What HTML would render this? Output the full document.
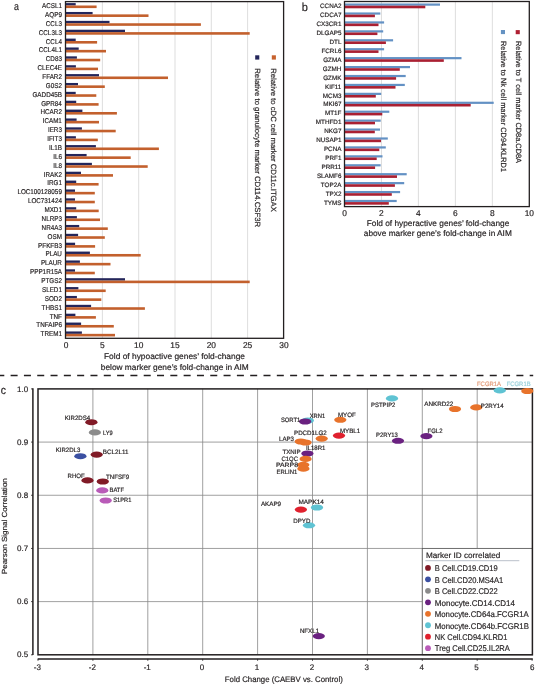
<!DOCTYPE html><html><head><meta charset="utf-8"><style>html,body{margin:0;padding:0;background:#fff;overflow:hidden} svg{will-change:transform}</style></head><body><svg width="536" height="685" viewBox="0 0 536 685" style="display:block;font-family:'Liberation Sans', sans-serif"><style>text{stroke-width:0.18px;text-rendering:geometricPrecision}</style><rect width="536" height="685" fill="#fff"/><line x1="102.40" y1="1.6" x2="102.40" y2="338.3" stroke="#d4d4d4" stroke-width="0.8"/><line x1="138.70" y1="1.6" x2="138.70" y2="338.3" stroke="#d4d4d4" stroke-width="0.8"/><line x1="175.00" y1="1.6" x2="175.00" y2="338.3" stroke="#d4d4d4" stroke-width="0.8"/><line x1="211.30" y1="1.6" x2="211.30" y2="338.3" stroke="#d4d4d4" stroke-width="0.8"/><line x1="247.60" y1="1.6" x2="247.60" y2="338.3" stroke="#d4d4d4" stroke-width="0.8"/><rect x="65.5" y="3.10" width="10.20" height="2.4" fill="#24265b"/><rect x="65.5" y="5.50" width="31.10" height="2.6" fill="#c3602d"/><text x="61.90" y="8.00" font-size="7.0" text-anchor="end" fill="#231f20" stroke="#231f20" textLength="19.97" lengthAdjust="spacingAndGlyphs">ACSL1</text><rect x="65.5" y="11.97" width="27.10" height="2.4" fill="#24265b"/><rect x="65.5" y="14.37" width="83.00" height="2.6" fill="#c3602d"/><text x="61.90" y="16.87" font-size="7.0" text-anchor="end" fill="#231f20" stroke="#231f20" textLength="16.82" lengthAdjust="spacingAndGlyphs">AQP9</text><rect x="65.5" y="20.85" width="44.00" height="2.4" fill="#24265b"/><rect x="65.5" y="23.25" width="135.40" height="2.6" fill="#c3602d"/><text x="61.90" y="25.75" font-size="7.0" text-anchor="end" fill="#231f20" stroke="#231f20" textLength="16.11" lengthAdjust="spacingAndGlyphs">CCL3</text><rect x="65.5" y="29.72" width="59.50" height="2.4" fill="#24265b"/><rect x="65.5" y="32.12" width="184.20" height="2.6" fill="#c3602d"/><text x="61.90" y="34.62" font-size="7.0" text-anchor="end" fill="#231f20" stroke="#231f20" textLength="23.13" lengthAdjust="spacingAndGlyphs">CCL3L3</text><rect x="65.5" y="38.60" width="10.20" height="2.4" fill="#24265b"/><rect x="65.5" y="41.00" width="31.60" height="2.6" fill="#c3602d"/><text x="61.90" y="43.50" font-size="7.0" text-anchor="end" fill="#231f20" stroke="#231f20" textLength="16.11" lengthAdjust="spacingAndGlyphs">CCL4</text><rect x="65.5" y="47.47" width="13.20" height="2.4" fill="#24265b"/><rect x="65.5" y="49.87" width="40.50" height="2.6" fill="#c3602d"/><text x="61.90" y="52.37" font-size="7.0" text-anchor="end" fill="#231f20" stroke="#231f20" textLength="23.13" lengthAdjust="spacingAndGlyphs">CCL4L1</text><rect x="65.5" y="56.34" width="11.40" height="2.4" fill="#24265b"/><rect x="65.5" y="58.74" width="34.70" height="2.6" fill="#c3602d"/><text x="61.90" y="61.24" font-size="7.0" text-anchor="end" fill="#231f20" stroke="#231f20" textLength="16.11" lengthAdjust="spacingAndGlyphs">CD83</text><rect x="65.5" y="65.22" width="10.40" height="2.4" fill="#24265b"/><rect x="65.5" y="67.62" width="32.50" height="2.6" fill="#c3602d"/><text x="61.90" y="70.12" font-size="7.0" text-anchor="end" fill="#231f20" stroke="#231f20" textLength="24.52" lengthAdjust="spacingAndGlyphs">CLEC4E</text><rect x="65.5" y="74.09" width="33.50" height="2.4" fill="#24265b"/><rect x="65.5" y="76.49" width="102.50" height="2.6" fill="#c3602d"/><text x="61.90" y="78.99" font-size="7.0" text-anchor="end" fill="#231f20" stroke="#231f20" textLength="19.61" lengthAdjust="spacingAndGlyphs">FFAR2</text><rect x="65.5" y="82.97" width="12.50" height="2.4" fill="#24265b"/><rect x="65.5" y="85.37" width="39.30" height="2.6" fill="#c3602d"/><text x="61.90" y="87.87" font-size="7.0" text-anchor="end" fill="#231f20" stroke="#231f20" textLength="16.12" lengthAdjust="spacingAndGlyphs">G0S2</text><rect x="65.5" y="91.84" width="10.20" height="2.4" fill="#24265b"/><rect x="65.5" y="94.24" width="30.80" height="2.6" fill="#c3602d"/><text x="61.90" y="96.74" font-size="7.0" text-anchor="end" fill="#231f20" stroke="#231f20" textLength="29.43" lengthAdjust="spacingAndGlyphs">GADD45B</text><rect x="65.5" y="100.71" width="10.70" height="2.4" fill="#24265b"/><rect x="65.5" y="103.11" width="33.10" height="2.6" fill="#c3602d"/><text x="61.90" y="105.61" font-size="7.0" text-anchor="end" fill="#231f20" stroke="#231f20" textLength="20.67" lengthAdjust="spacingAndGlyphs">GPR84</text><rect x="65.5" y="109.59" width="16.90" height="2.4" fill="#24265b"/><rect x="65.5" y="111.99" width="51.40" height="2.6" fill="#c3602d"/><text x="61.90" y="114.49" font-size="7.0" text-anchor="end" fill="#231f20" stroke="#231f20" textLength="21.37" lengthAdjust="spacingAndGlyphs">HCAR2</text><rect x="65.5" y="118.46" width="11.10" height="2.4" fill="#24265b"/><rect x="65.5" y="120.86" width="33.50" height="2.6" fill="#c3602d"/><text x="61.90" y="123.36" font-size="7.0" text-anchor="end" fill="#231f20" stroke="#231f20" textLength="19.26" lengthAdjust="spacingAndGlyphs">ICAM1</text><rect x="65.5" y="127.34" width="16.40" height="2.4" fill="#24265b"/><rect x="65.5" y="129.74" width="50.20" height="2.6" fill="#c3602d"/><text x="61.90" y="132.24" font-size="7.0" text-anchor="end" fill="#231f20" stroke="#231f20" textLength="14.01" lengthAdjust="spacingAndGlyphs">IER3</text><rect x="65.5" y="136.21" width="10.40" height="2.4" fill="#24265b"/><rect x="65.5" y="138.61" width="32.30" height="2.6" fill="#c3602d"/><text x="61.90" y="141.11" font-size="7.0" text-anchor="end" fill="#231f20" stroke="#231f20" textLength="14.71" lengthAdjust="spacingAndGlyphs">IFIT3</text><rect x="65.5" y="145.08" width="30.40" height="2.4" fill="#24265b"/><rect x="65.5" y="147.48" width="93.40" height="2.6" fill="#c3602d"/><text x="61.90" y="149.98" font-size="7.0" text-anchor="end" fill="#231f20" stroke="#231f20" textLength="12.97" lengthAdjust="spacingAndGlyphs">IL1B</text><rect x="65.5" y="153.96" width="21.10" height="2.4" fill="#24265b"/><rect x="65.5" y="156.36" width="65.20" height="2.6" fill="#c3602d"/><text x="61.90" y="158.86" font-size="7.0" text-anchor="end" fill="#231f20" stroke="#231f20" textLength="8.76" lengthAdjust="spacingAndGlyphs">IL6</text><rect x="65.5" y="162.83" width="26.40" height="2.4" fill="#24265b"/><rect x="65.5" y="165.23" width="82.20" height="2.6" fill="#c3602d"/><text x="61.90" y="167.73" font-size="7.0" text-anchor="end" fill="#231f20" stroke="#231f20" textLength="8.76" lengthAdjust="spacingAndGlyphs">IL8</text><rect x="65.5" y="171.71" width="15.50" height="2.4" fill="#24265b"/><rect x="65.5" y="174.11" width="47.50" height="2.6" fill="#c3602d"/><text x="61.90" y="176.61" font-size="7.0" text-anchor="end" fill="#231f20" stroke="#231f20" textLength="18.22" lengthAdjust="spacingAndGlyphs">IRAK2</text><rect x="65.5" y="180.58" width="10.70" height="2.4" fill="#24265b"/><rect x="65.5" y="182.98" width="33.10" height="2.6" fill="#c3602d"/><text x="61.90" y="185.48" font-size="7.0" text-anchor="end" fill="#231f20" stroke="#231f20" textLength="14.71" lengthAdjust="spacingAndGlyphs">IRG1</text><rect x="65.5" y="189.45" width="9.50" height="2.4" fill="#24265b"/><rect x="65.5" y="191.85" width="29.30" height="2.6" fill="#c3602d"/><text x="61.90" y="194.35" font-size="7.0" text-anchor="end" fill="#231f20" stroke="#231f20" textLength="44.51" lengthAdjust="spacingAndGlyphs">LOC100128059</text><rect x="65.5" y="198.33" width="9.50" height="2.4" fill="#24265b"/><rect x="65.5" y="200.73" width="29.30" height="2.6" fill="#c3602d"/><text x="61.90" y="203.23" font-size="7.0" text-anchor="end" fill="#231f20" stroke="#231f20" textLength="33.99" lengthAdjust="spacingAndGlyphs">LOC731424</text><rect x="65.5" y="207.20" width="10.70" height="2.4" fill="#24265b"/><rect x="65.5" y="209.60" width="33.20" height="2.6" fill="#c3602d"/><text x="61.90" y="212.10" font-size="7.0" text-anchor="end" fill="#231f20" stroke="#231f20" textLength="17.51" lengthAdjust="spacingAndGlyphs">MXD1</text><rect x="65.5" y="216.08" width="11.40" height="2.4" fill="#24265b"/><rect x="65.5" y="218.48" width="34.50" height="2.6" fill="#c3602d"/><text x="61.90" y="220.98" font-size="7.0" text-anchor="end" fill="#231f20" stroke="#231f20" textLength="20.32" lengthAdjust="spacingAndGlyphs">NLRP3</text><rect x="65.5" y="224.95" width="13.70" height="2.4" fill="#24265b"/><rect x="65.5" y="227.35" width="42.30" height="2.6" fill="#c3602d"/><text x="61.90" y="229.85" font-size="7.0" text-anchor="end" fill="#231f20" stroke="#231f20" textLength="20.32" lengthAdjust="spacingAndGlyphs">NR4A3</text><rect x="65.5" y="233.82" width="12.60" height="2.4" fill="#24265b"/><rect x="65.5" y="236.22" width="39.30" height="2.6" fill="#c3602d"/><text x="61.90" y="238.72" font-size="7.0" text-anchor="end" fill="#231f20" stroke="#231f20" textLength="14.36" lengthAdjust="spacingAndGlyphs">OSM</text><rect x="65.5" y="242.70" width="9.60" height="2.4" fill="#24265b"/><rect x="65.5" y="245.10" width="29.60" height="2.6" fill="#c3602d"/><text x="61.90" y="247.60" font-size="7.0" text-anchor="end" fill="#231f20" stroke="#231f20" textLength="23.82" lengthAdjust="spacingAndGlyphs">PFKFB3</text><rect x="65.5" y="251.57" width="24.40" height="2.4" fill="#24265b"/><rect x="65.5" y="253.97" width="75.20" height="2.6" fill="#c3602d"/><text x="61.90" y="256.47" font-size="7.0" text-anchor="end" fill="#231f20" stroke="#231f20" textLength="16.47" lengthAdjust="spacingAndGlyphs">PLAU</text><rect x="65.5" y="260.45" width="14.40" height="2.4" fill="#24265b"/><rect x="65.5" y="262.85" width="45.00" height="2.6" fill="#c3602d"/><text x="61.90" y="265.35" font-size="7.0" text-anchor="end" fill="#231f20" stroke="#231f20" textLength="21.02" lengthAdjust="spacingAndGlyphs">PLAUR</text><rect x="65.5" y="269.32" width="9.50" height="2.4" fill="#24265b"/><rect x="65.5" y="271.72" width="29.30" height="2.6" fill="#c3602d"/><text x="61.90" y="274.22" font-size="7.0" text-anchor="end" fill="#231f20" stroke="#231f20" textLength="31.88" lengthAdjust="spacingAndGlyphs">PPP1R15A</text><rect x="65.5" y="278.19" width="59.50" height="2.4" fill="#24265b"/><rect x="65.5" y="280.59" width="184.20" height="2.6" fill="#c3602d"/><text x="61.90" y="283.09" font-size="7.0" text-anchor="end" fill="#231f20" stroke="#231f20" textLength="20.67" lengthAdjust="spacingAndGlyphs">PTGS2</text><rect x="65.5" y="287.07" width="12.90" height="2.4" fill="#24265b"/><rect x="65.5" y="289.47" width="40.20" height="2.6" fill="#c3602d"/><text x="61.90" y="291.97" font-size="7.0" text-anchor="end" fill="#231f20" stroke="#231f20" textLength="19.97" lengthAdjust="spacingAndGlyphs">SLED1</text><rect x="65.5" y="295.94" width="11.40" height="2.4" fill="#24265b"/><rect x="65.5" y="298.34" width="35.80" height="2.6" fill="#c3602d"/><text x="61.90" y="300.84" font-size="7.0" text-anchor="end" fill="#231f20" stroke="#231f20" textLength="17.16" lengthAdjust="spacingAndGlyphs">SOD2</text><rect x="65.5" y="304.82" width="25.60" height="2.4" fill="#24265b"/><rect x="65.5" y="307.22" width="79.40" height="2.6" fill="#c3602d"/><text x="61.90" y="309.72" font-size="7.0" text-anchor="end" fill="#231f20" stroke="#231f20" textLength="20.32" lengthAdjust="spacingAndGlyphs">THBS1</text><rect x="65.5" y="313.69" width="9.90" height="2.4" fill="#24265b"/><rect x="65.5" y="316.09" width="30.40" height="2.6" fill="#c3602d"/><text x="61.90" y="318.59" font-size="7.0" text-anchor="end" fill="#231f20" stroke="#231f20" textLength="12.25" lengthAdjust="spacingAndGlyphs">TNF</text><rect x="65.5" y="322.56" width="15.60" height="2.4" fill="#24265b"/><rect x="65.5" y="324.96" width="48.30" height="2.6" fill="#c3602d"/><text x="61.90" y="327.46" font-size="7.0" text-anchor="end" fill="#231f20" stroke="#231f20" textLength="25.57" lengthAdjust="spacingAndGlyphs">TNFAIP6</text><rect x="65.5" y="331.44" width="16.40" height="2.4" fill="#24265b"/><rect x="65.5" y="333.84" width="49.50" height="2.6" fill="#c3602d"/><text x="61.90" y="336.34" font-size="7.0" text-anchor="end" fill="#231f20" stroke="#231f20" textLength="21.36" lengthAdjust="spacingAndGlyphs">TREM1</text><rect x="65.5" y="1.6" width="218.10000000000002" height="336.7" fill="none" stroke="#231f20" stroke-width="1.3"/><text x="66.10" y="348.30" font-size="8.4" text-anchor="middle" fill="#231f20" stroke="#231f20">0</text><text x="102.40" y="348.30" font-size="8.4" text-anchor="middle" fill="#231f20" stroke="#231f20">5</text><text x="138.70" y="348.30" font-size="8.4" text-anchor="middle" fill="#231f20" stroke="#231f20">10</text><text x="175.00" y="348.30" font-size="8.4" text-anchor="middle" fill="#231f20" stroke="#231f20">15</text><text x="211.30" y="348.30" font-size="8.4" text-anchor="middle" fill="#231f20" stroke="#231f20">20</text><text x="247.60" y="348.30" font-size="8.4" text-anchor="middle" fill="#231f20" stroke="#231f20">25</text><text x="283.90" y="348.30" font-size="8.4" text-anchor="middle" fill="#231f20" stroke="#231f20">30</text><text x="174.50" y="359.30" font-size="8.2" text-anchor="middle" fill="#231f20" stroke="#231f20" textLength="141.00" lengthAdjust="spacingAndGlyphs">Fold of hypoactive genes&#8217; fold-change</text><text x="174.80" y="370.10" font-size="8.2" text-anchor="middle" fill="#231f20" stroke="#231f20" textLength="148.00" lengthAdjust="spacingAndGlyphs">below marker gene&#8217;s fold-change in AIM</text><text x="14.10" y="9.50" font-size="11.2" text-anchor="start" fill="#231f20" stroke="#231f20" textLength="4.90" lengthAdjust="spacingAndGlyphs">a</text><rect x="255.2" y="55.3" width="4.1" height="4.3" fill="#24265b"/><rect x="271.8" y="55.3" width="4.1" height="4.3" fill="#c7622e"/><text transform="translate(254.6,68.2) rotate(90)" font-size="7.6" fill="#231f20" stroke="#231f20" textLength="159" lengthAdjust="spacingAndGlyphs">Relative to granulocyte marker CD114.CSF3R</text><text transform="translate(271.3,68.2) rotate(90)" font-size="7.6" fill="#231f20" stroke="#231f20" textLength="143.7" lengthAdjust="spacingAndGlyphs">Relative to cDC cell marker CD11c.ITGAX</text><line x1="381.46" y1="1.5" x2="381.46" y2="206.6" stroke="#d4d4d4" stroke-width="0.8"/><line x1="418.42" y1="1.5" x2="418.42" y2="206.6" stroke="#d4d4d4" stroke-width="0.8"/><line x1="455.38" y1="1.5" x2="455.38" y2="206.6" stroke="#d4d4d4" stroke-width="0.8"/><line x1="492.34" y1="1.5" x2="492.34" y2="206.6" stroke="#d4d4d4" stroke-width="0.8"/><rect x="344.5" y="3.50" width="95.50" height="2.2" fill="#6391c4"/><rect x="344.5" y="5.70" width="80.80" height="2.6" fill="#aa2032"/><text x="341.40" y="8.25" font-size="6.3" text-anchor="end" fill="#231f20" stroke="#231f20" textLength="21.35" lengthAdjust="spacingAndGlyphs">CCNA2</text><rect x="344.5" y="12.43" width="35.80" height="2.2" fill="#6391c4"/><rect x="344.5" y="14.63" width="30.40" height="2.6" fill="#aa2032"/><text x="341.40" y="17.18" font-size="6.3" text-anchor="end" fill="#231f20" stroke="#231f20" textLength="21.35" lengthAdjust="spacingAndGlyphs">CDCA7</text><rect x="344.5" y="21.35" width="39.60" height="2.2" fill="#6391c4"/><rect x="344.5" y="23.55" width="34.00" height="2.6" fill="#aa2032"/><text x="341.40" y="26.10" font-size="6.3" text-anchor="end" fill="#231f20" stroke="#231f20" textLength="24.86" lengthAdjust="spacingAndGlyphs">CX3CR1</text><rect x="344.5" y="30.28" width="38.70" height="2.2" fill="#6391c4"/><rect x="344.5" y="32.48" width="32.90" height="2.6" fill="#aa2032"/><text x="341.40" y="35.03" font-size="6.3" text-anchor="end" fill="#231f20" stroke="#231f20" textLength="24.86" lengthAdjust="spacingAndGlyphs">DLGAP5</text><rect x="344.5" y="39.21" width="48.60" height="2.2" fill="#6391c4"/><rect x="344.5" y="41.41" width="41.40" height="2.6" fill="#aa2032"/><text x="341.40" y="43.96" font-size="6.3" text-anchor="end" fill="#231f20" stroke="#231f20" textLength="11.90" lengthAdjust="spacingAndGlyphs">DTL</text><rect x="344.5" y="48.13" width="39.60" height="2.2" fill="#6391c4"/><rect x="344.5" y="50.34" width="34.00" height="2.6" fill="#aa2032"/><text x="341.40" y="52.88" font-size="6.3" text-anchor="end" fill="#231f20" stroke="#231f20" textLength="19.96" lengthAdjust="spacingAndGlyphs">FCRL6</text><rect x="344.5" y="57.06" width="117.00" height="2.2" fill="#6391c4"/><rect x="344.5" y="59.26" width="99.30" height="2.6" fill="#aa2032"/><text x="341.40" y="61.81" font-size="6.3" text-anchor="end" fill="#231f20" stroke="#231f20" textLength="18.20" lengthAdjust="spacingAndGlyphs">GZMA</text><rect x="344.5" y="65.99" width="65.50" height="2.2" fill="#6391c4"/><rect x="344.5" y="68.19" width="55.30" height="2.6" fill="#aa2032"/><text x="341.40" y="70.74" font-size="6.3" text-anchor="end" fill="#231f20" stroke="#231f20" textLength="18.55" lengthAdjust="spacingAndGlyphs">GZMH</text><rect x="344.5" y="74.92" width="61.20" height="2.2" fill="#6391c4"/><rect x="344.5" y="77.12" width="51.60" height="2.6" fill="#aa2032"/><text x="341.40" y="79.67" font-size="6.3" text-anchor="end" fill="#231f20" stroke="#231f20" textLength="18.20" lengthAdjust="spacingAndGlyphs">GZMK</text><rect x="344.5" y="83.84" width="60.30" height="2.2" fill="#6391c4"/><rect x="344.5" y="86.04" width="51.00" height="2.6" fill="#aa2032"/><text x="341.40" y="88.59" font-size="6.3" text-anchor="end" fill="#231f20" stroke="#231f20" textLength="16.34" lengthAdjust="spacingAndGlyphs">KIF11</text><rect x="344.5" y="92.77" width="36.70" height="2.2" fill="#6391c4"/><rect x="344.5" y="94.97" width="31.30" height="2.6" fill="#aa2032"/><text x="341.40" y="97.52" font-size="6.3" text-anchor="end" fill="#231f20" stroke="#231f20" textLength="18.55" lengthAdjust="spacingAndGlyphs">MCM3</text><rect x="344.5" y="101.70" width="149.20" height="2.2" fill="#6391c4"/><rect x="344.5" y="103.90" width="126.20" height="2.6" fill="#aa2032"/><text x="341.40" y="106.45" font-size="6.3" text-anchor="end" fill="#231f20" stroke="#231f20" textLength="18.21" lengthAdjust="spacingAndGlyphs">MKI67</text><rect x="344.5" y="110.62" width="44.80" height="2.2" fill="#6391c4"/><rect x="344.5" y="112.82" width="37.80" height="2.6" fill="#aa2032"/><text x="341.40" y="115.37" font-size="6.3" text-anchor="end" fill="#231f20" stroke="#231f20" textLength="16.45" lengthAdjust="spacingAndGlyphs">MT1F</text><rect x="344.5" y="119.55" width="36.20" height="2.2" fill="#6391c4"/><rect x="344.5" y="121.75" width="30.50" height="2.6" fill="#aa2032"/><text x="341.40" y="124.30" font-size="6.3" text-anchor="end" fill="#231f20" stroke="#231f20" textLength="25.55" lengthAdjust="spacingAndGlyphs">MTHFD1</text><rect x="344.5" y="128.48" width="35.50" height="2.2" fill="#6391c4"/><rect x="344.5" y="130.68" width="30.30" height="2.6" fill="#aa2032"/><text x="341.40" y="133.23" font-size="6.3" text-anchor="end" fill="#231f20" stroke="#231f20" textLength="17.16" lengthAdjust="spacingAndGlyphs">NKG7</text><rect x="344.5" y="137.41" width="43.30" height="2.2" fill="#6391c4"/><rect x="344.5" y="139.60" width="36.50" height="2.6" fill="#aa2032"/><text x="341.40" y="142.16" font-size="6.3" text-anchor="end" fill="#231f20" stroke="#231f20" textLength="25.21" lengthAdjust="spacingAndGlyphs">NUSAP1</text><rect x="344.5" y="146.33" width="41.30" height="2.2" fill="#6391c4"/><rect x="344.5" y="148.53" width="34.80" height="2.6" fill="#aa2032"/><text x="341.40" y="151.08" font-size="6.3" text-anchor="end" fill="#231f20" stroke="#231f20" textLength="17.50" lengthAdjust="spacingAndGlyphs">PCNA</text><rect x="344.5" y="155.26" width="38.00" height="2.2" fill="#6391c4"/><rect x="344.5" y="157.46" width="32.20" height="2.6" fill="#aa2032"/><text x="341.40" y="160.01" font-size="6.3" text-anchor="end" fill="#231f20" stroke="#231f20" textLength="16.10" lengthAdjust="spacingAndGlyphs">PRF1</text><rect x="344.5" y="164.19" width="36.10" height="2.2" fill="#6391c4"/><rect x="344.5" y="166.39" width="30.60" height="2.6" fill="#aa2032"/><text x="341.40" y="168.94" font-size="6.3" text-anchor="end" fill="#231f20" stroke="#231f20" textLength="19.84" lengthAdjust="spacingAndGlyphs">PRR11</text><rect x="344.5" y="173.11" width="62.20" height="2.2" fill="#6391c4"/><rect x="344.5" y="175.31" width="52.50" height="2.6" fill="#aa2032"/><text x="341.40" y="177.86" font-size="6.3" text-anchor="end" fill="#231f20" stroke="#231f20" textLength="24.51" lengthAdjust="spacingAndGlyphs">SLAMF6</text><rect x="344.5" y="182.04" width="59.70" height="2.2" fill="#6391c4"/><rect x="344.5" y="184.24" width="50.40" height="2.6" fill="#aa2032"/><text x="341.40" y="186.79" font-size="6.3" text-anchor="end" fill="#231f20" stroke="#231f20" textLength="20.54" lengthAdjust="spacingAndGlyphs">TOP2A</text><rect x="344.5" y="190.97" width="55.60" height="2.2" fill="#6391c4"/><rect x="344.5" y="193.17" width="47.30" height="2.6" fill="#aa2032"/><text x="341.40" y="195.72" font-size="6.3" text-anchor="end" fill="#231f20" stroke="#231f20" textLength="15.76" lengthAdjust="spacingAndGlyphs">TPX2</text><rect x="344.5" y="199.89" width="52.20" height="2.2" fill="#6391c4"/><rect x="344.5" y="202.09" width="44.30" height="2.6" fill="#aa2032"/><text x="341.40" y="204.64" font-size="6.3" text-anchor="end" fill="#231f20" stroke="#231f20" textLength="17.50" lengthAdjust="spacingAndGlyphs">TYMS</text><rect x="344.5" y="1.5" width="184.80" height="205.10" fill="none" stroke="#231f20" stroke-width="1.3"/><text x="344.50" y="216.20" font-size="8.4" text-anchor="middle" fill="#231f20" stroke="#231f20">0</text><text x="381.46" y="216.20" font-size="8.4" text-anchor="middle" fill="#231f20" stroke="#231f20">2</text><text x="418.42" y="216.20" font-size="8.4" text-anchor="middle" fill="#231f20" stroke="#231f20">4</text><text x="455.38" y="216.20" font-size="8.4" text-anchor="middle" fill="#231f20" stroke="#231f20">6</text><text x="492.34" y="216.20" font-size="8.4" text-anchor="middle" fill="#231f20" stroke="#231f20">8</text><text x="529.30" y="216.20" font-size="8.4" text-anchor="middle" fill="#231f20" stroke="#231f20">10</text><text x="438.00" y="225.60" font-size="8.2" text-anchor="middle" fill="#231f20" stroke="#231f20" textLength="142.60" lengthAdjust="spacingAndGlyphs">Fold of hyperactive genes&#8217; fold-change</text><text x="437.80" y="235.80" font-size="8.2" text-anchor="middle" fill="#231f20" stroke="#231f20" textLength="148.00" lengthAdjust="spacingAndGlyphs">above marker gene&#8217;s fold-change in AIM</text><text x="301.70" y="10.90" font-size="11.6" text-anchor="start" fill="#231f20" stroke="#231f20" textLength="6.10" lengthAdjust="spacingAndGlyphs">b</text><rect x="500.9" y="30.0" width="4.1" height="4.1" fill="#6592c2"/><rect x="515.7" y="30.1" width="4.1" height="4.1" fill="#af1f31"/><text transform="translate(501.2,41) rotate(90)" font-size="7.6" fill="#231f20" stroke="#231f20" textLength="131" lengthAdjust="spacingAndGlyphs">Relative to Nk cell marker CD94.KLRD1</text><text transform="translate(516.1,41) rotate(90)" font-size="7.6" fill="#231f20" stroke="#231f20" textLength="122" lengthAdjust="spacingAndGlyphs">Relative to T cell marker CD8a.CD8A</text><line x1="0" y1="375.5" x2="533.2" y2="375.5" stroke="#231f20" stroke-width="1.3" stroke-dasharray="7 6.31" stroke-dashoffset="2.7"/><line x1="92.90" y1="388.9" x2="92.90" y2="654.8" stroke="#888" stroke-width="0.8"/><line x1="147.80" y1="388.9" x2="147.80" y2="654.8" stroke="#888" stroke-width="0.8"/><line x1="202.70" y1="388.9" x2="202.70" y2="654.8" stroke="#888" stroke-width="0.8"/><line x1="257.60" y1="388.9" x2="257.60" y2="654.8" stroke="#888" stroke-width="0.8"/><line x1="312.50" y1="388.9" x2="312.50" y2="654.8" stroke="#888" stroke-width="0.8"/><line x1="367.40" y1="388.9" x2="367.40" y2="654.8" stroke="#888" stroke-width="0.8"/><line x1="422.30" y1="388.9" x2="422.30" y2="654.8" stroke="#888" stroke-width="0.8"/><line x1="477.20" y1="388.9" x2="477.20" y2="654.8" stroke="#888" stroke-width="0.8"/><line x1="38" y1="601.62" x2="532.4" y2="601.62" stroke="#888" stroke-width="0.8"/><line x1="38" y1="548.44" x2="532.4" y2="548.44" stroke="#888" stroke-width="0.8"/><line x1="38" y1="495.26" x2="532.4" y2="495.26" stroke="#888" stroke-width="0.8"/><line x1="38" y1="442.08" x2="532.4" y2="442.08" stroke="#888" stroke-width="0.8"/><rect x="422.30" y="548.44" width="110.10" height="106.36" fill="#fff" stroke="#5a5a5a" stroke-width="0.8"/><rect x="38" y="388.9" width="494.40" height="265.90" fill="none" stroke="#231f20" stroke-width="1.5"/><line x1="32.9" y1="388.2" x2="32.9" y2="655.0999999999999" stroke="#231f20" stroke-width="1.5"/><line x1="37.7" y1="659.1" x2="532.8" y2="659.1" stroke="#231f20" stroke-width="1.5"/><line x1="31" y1="654.80" x2="32.9" y2="654.80" stroke="#231f20" stroke-width="0.8"/><text x="28.10" y="657.30" font-size="8.0" text-anchor="end" fill="#231f20" stroke="#231f20">0.5</text><line x1="31" y1="601.62" x2="32.9" y2="601.62" stroke="#231f20" stroke-width="0.8"/><text x="28.10" y="604.24" font-size="8.0" text-anchor="end" fill="#231f20" stroke="#231f20">0.6</text><line x1="31" y1="548.44" x2="32.9" y2="548.44" stroke="#231f20" stroke-width="0.8"/><text x="28.10" y="551.18" font-size="8.0" text-anchor="end" fill="#231f20" stroke="#231f20">0.7</text><line x1="31" y1="495.26" x2="32.9" y2="495.26" stroke="#231f20" stroke-width="0.8"/><text x="28.10" y="498.12" font-size="8.0" text-anchor="end" fill="#231f20" stroke="#231f20">0.8</text><line x1="31" y1="442.08" x2="32.9" y2="442.08" stroke="#231f20" stroke-width="0.8"/><text x="28.10" y="445.06" font-size="8.0" text-anchor="end" fill="#231f20" stroke="#231f20">0.9</text><line x1="31" y1="388.90" x2="32.9" y2="388.90" stroke="#231f20" stroke-width="0.8"/><text x="28.10" y="392.00" font-size="8.0" text-anchor="end" fill="#231f20" stroke="#231f20">1.0</text><line x1="38.00" y1="658.9" x2="38.00" y2="660.8" stroke="#231f20" stroke-width="0.8"/><text x="37.40" y="670.40" font-size="8.0" text-anchor="middle" fill="#231f20" stroke="#231f20">-3</text><line x1="92.90" y1="658.9" x2="92.90" y2="660.8" stroke="#231f20" stroke-width="0.8"/><text x="92.30" y="670.40" font-size="8.0" text-anchor="middle" fill="#231f20" stroke="#231f20">-2</text><line x1="147.80" y1="658.9" x2="147.80" y2="660.8" stroke="#231f20" stroke-width="0.8"/><text x="147.20" y="670.40" font-size="8.0" text-anchor="middle" fill="#231f20" stroke="#231f20">-1</text><line x1="202.70" y1="658.9" x2="202.70" y2="660.8" stroke="#231f20" stroke-width="0.8"/><text x="202.10" y="670.40" font-size="8.0" text-anchor="middle" fill="#231f20" stroke="#231f20">0</text><line x1="257.60" y1="658.9" x2="257.60" y2="660.8" stroke="#231f20" stroke-width="0.8"/><text x="257.00" y="670.40" font-size="8.0" text-anchor="middle" fill="#231f20" stroke="#231f20">1</text><line x1="312.50" y1="658.9" x2="312.50" y2="660.8" stroke="#231f20" stroke-width="0.8"/><text x="311.90" y="670.40" font-size="8.0" text-anchor="middle" fill="#231f20" stroke="#231f20">2</text><line x1="367.40" y1="658.9" x2="367.40" y2="660.8" stroke="#231f20" stroke-width="0.8"/><text x="366.80" y="670.40" font-size="8.0" text-anchor="middle" fill="#231f20" stroke="#231f20">3</text><line x1="422.30" y1="658.9" x2="422.30" y2="660.8" stroke="#231f20" stroke-width="0.8"/><text x="421.70" y="670.40" font-size="8.0" text-anchor="middle" fill="#231f20" stroke="#231f20">4</text><line x1="477.20" y1="658.9" x2="477.20" y2="660.8" stroke="#231f20" stroke-width="0.8"/><text x="476.60" y="670.40" font-size="8.0" text-anchor="middle" fill="#231f20" stroke="#231f20">5</text><line x1="532.10" y1="658.9" x2="532.10" y2="660.8" stroke="#231f20" stroke-width="0.8"/><text x="532.30" y="670.40" font-size="8.0" text-anchor="middle" fill="#231f20" stroke="#231f20">6</text><text x="283.80" y="681.60" font-size="8.0" text-anchor="middle" fill="#231f20" stroke="#231f20" textLength="118.00" lengthAdjust="spacingAndGlyphs">Fold Change (CAEBV vs. Control)</text><text transform="translate(7.3,526.2) rotate(-90)" font-size="7.4" text-anchor="middle" fill="#231f20" stroke="#231f20" textLength="96" lengthAdjust="spacingAndGlyphs">Pearson Signal Correlation</text><text x="0.80" y="394.20" font-size="11.5" text-anchor="start" fill="#231f20" stroke="#231f20" textLength="5.20" lengthAdjust="spacingAndGlyphs">c</text><ellipse cx="91.4" cy="422.2" rx="6.1" ry="3.05" fill="#801a26"/><ellipse cx="94.9" cy="432.4" rx="6.1" ry="3.05" fill="#8b8b8b"/><ellipse cx="80.4" cy="456.2" rx="6.1" ry="3.05" fill="#3b50a2"/><ellipse cx="96.7" cy="454.6" rx="6.1" ry="3.05" fill="#801a26"/><ellipse cx="87.5" cy="480.4" rx="6.1" ry="3.05" fill="#801a26"/><ellipse cx="102.8" cy="481.5" rx="6.1" ry="3.05" fill="#801a26"/><ellipse cx="102.3" cy="490.4" rx="6.1" ry="3.05" fill="#b95bb8"/><ellipse cx="105.7" cy="500.5" rx="6.1" ry="3.05" fill="#b95bb8"/><ellipse cx="307.8" cy="420.5" rx="6.1" ry="3.05" fill="#5fc3d3"/><ellipse cx="305.1" cy="421.5" rx="6.1" ry="3.05" fill="#6a2180"/><ellipse cx="340.3" cy="419.8" rx="6.1" ry="3.05" fill="#e8732b"/><ellipse cx="339" cy="435.6" rx="6.1" ry="3.05" fill="#e0212e"/><ellipse cx="321.7" cy="438.6" rx="6.1" ry="3.05" fill="#e8732b"/><ellipse cx="300.8" cy="441.5" rx="6.1" ry="3.05" fill="#e8732b"/><ellipse cx="305.5" cy="442.5" rx="6.1" ry="3.05" fill="#e8732b"/><ellipse cx="307.4" cy="453.5" rx="6.1" ry="3.05" fill="#6a2180"/><ellipse cx="305.6" cy="458.9" rx="6.1" ry="3.05" fill="#e8732b"/><ellipse cx="303.3" cy="464.8" rx="6.1" ry="3.05" fill="#e8732b"/><ellipse cx="303.4" cy="468.7" rx="6.1" ry="3.05" fill="#e8732b"/><ellipse cx="300.9" cy="509.6" rx="6.1" ry="3.05" fill="#e0212e"/><ellipse cx="317" cy="507.5" rx="6.1" ry="3.05" fill="#5fc3d3"/><ellipse cx="309" cy="525.3" rx="6.1" ry="3.05" fill="#5fc3d3"/><ellipse cx="318.8" cy="636.1" rx="6.1" ry="3.05" fill="#6a2180"/><ellipse cx="392" cy="398.4" rx="6.1" ry="3.05" fill="#5fc3d3"/><ellipse cx="455" cy="409" rx="6.1" ry="3.05" fill="#e8732b"/><ellipse cx="476.3" cy="407.4" rx="6.1" ry="3.05" fill="#e8732b"/><ellipse cx="426.4" cy="436.1" rx="6.1" ry="3.05" fill="#6a2180"/><ellipse cx="398" cy="440.8" rx="6.1" ry="3.05" fill="#6a2180"/><ellipse cx="499.8" cy="390.4" rx="6.1" ry="3.05" fill="#5fc3d3"/><ellipse cx="527.3" cy="391" rx="6.1" ry="3.05" fill="#e8732b"/><text x="64.70" y="419.80" font-size="6.3" text-anchor="start" fill="#231f20" stroke="#231f20" textLength="25.50" lengthAdjust="spacingAndGlyphs">KIR2DS4</text><text x="102.90" y="434.70" font-size="6.3" text-anchor="start" fill="#231f20" stroke="#231f20" textLength="9.70" lengthAdjust="spacingAndGlyphs">LY9</text><text x="55.70" y="452.30" font-size="6.3" text-anchor="start" fill="#231f20" stroke="#231f20" textLength="24.70" lengthAdjust="spacingAndGlyphs">KIR2DL3</text><text x="102.80" y="454.00" font-size="6.3" text-anchor="start" fill="#231f20" stroke="#231f20" textLength="25.70" lengthAdjust="spacingAndGlyphs">BCL2L11</text><text x="67.60" y="477.70" font-size="6.3" text-anchor="start" fill="#231f20" stroke="#231f20" textLength="17.20" lengthAdjust="spacingAndGlyphs">RHOF</text><text x="106.10" y="479.30" font-size="6.3" text-anchor="start" fill="#231f20" stroke="#231f20" textLength="23.10" lengthAdjust="spacingAndGlyphs">TNFSF9</text><text x="109.50" y="492.10" font-size="6.3" text-anchor="start" fill="#231f20" stroke="#231f20" textLength="14.50" lengthAdjust="spacingAndGlyphs">BATF</text><text x="113.30" y="502.30" font-size="6.3" text-anchor="start" fill="#231f20" stroke="#231f20" textLength="18.10" lengthAdjust="spacingAndGlyphs">S1PR1</text><text x="309.70" y="418.10" font-size="6.3" text-anchor="start" fill="#231f20" stroke="#231f20" textLength="15.50" lengthAdjust="spacingAndGlyphs">XRN1</text><text x="280.90" y="422.00" font-size="6.3" text-anchor="start" fill="#231f20" stroke="#231f20" textLength="19.40" lengthAdjust="spacingAndGlyphs">SORT1</text><text x="337.90" y="416.60" font-size="6.3" text-anchor="start" fill="#231f20" stroke="#231f20" textLength="17.90" lengthAdjust="spacingAndGlyphs">MYOF</text><text x="339.90" y="432.60" font-size="6.3" text-anchor="start" fill="#231f20" stroke="#231f20" textLength="20.40" lengthAdjust="spacingAndGlyphs">MYBL1</text><text x="294.00" y="434.90" font-size="6.3" text-anchor="start" fill="#231f20" stroke="#231f20" textLength="32.70" lengthAdjust="spacingAndGlyphs">PDCD1LG2</text><text x="279.00" y="440.80" font-size="6.3" text-anchor="start" fill="#231f20" stroke="#231f20" textLength="15.00" lengthAdjust="spacingAndGlyphs">LAP3</text><text x="305.90" y="449.50" font-size="6.3" text-anchor="start" fill="#231f20" stroke="#231f20" textLength="19.60" lengthAdjust="spacingAndGlyphs">IL18R1</text><text x="282.40" y="453.90" font-size="6.3" text-anchor="start" fill="#231f20" stroke="#231f20" textLength="18.30" lengthAdjust="spacingAndGlyphs">TXNIP</text><text x="281.50" y="461.10" font-size="6.3" text-anchor="start" fill="#231f20" stroke="#231f20" textLength="16.50" lengthAdjust="spacingAndGlyphs">C1QC</text><text x="275.90" y="467.40" font-size="6.3" text-anchor="start" fill="#231f20" stroke="#231f20" textLength="22.10" lengthAdjust="spacingAndGlyphs">PARP8</text><text x="276.50" y="473.90" font-size="6.3" text-anchor="start" fill="#231f20" stroke="#231f20" textLength="20.90" lengthAdjust="spacingAndGlyphs">ERLIN1</text><text x="260.90" y="506.00" font-size="6.3" text-anchor="start" fill="#231f20" stroke="#231f20" textLength="20.20" lengthAdjust="spacingAndGlyphs">AKAP9</text><text x="298.40" y="504.30" font-size="6.3" text-anchor="start" fill="#231f20" stroke="#231f20" textLength="25.50" lengthAdjust="spacingAndGlyphs">MAPK14</text><text x="293.30" y="522.90" font-size="6.3" text-anchor="start" fill="#231f20" stroke="#231f20" textLength="17.10" lengthAdjust="spacingAndGlyphs">DPYD</text><text x="299.90" y="632.80" font-size="6.3" text-anchor="start" fill="#231f20" stroke="#231f20" textLength="19.20" lengthAdjust="spacingAndGlyphs">NFXL1</text><text x="371.00" y="407.40" font-size="6.3" text-anchor="start" fill="#231f20" stroke="#231f20" textLength="24.40" lengthAdjust="spacingAndGlyphs">PSTPIP2</text><text x="424.20" y="405.90" font-size="6.3" text-anchor="start" fill="#231f20" stroke="#231f20" textLength="29.10" lengthAdjust="spacingAndGlyphs">ANKRD22</text><text x="480.80" y="407.70" font-size="6.3" text-anchor="start" fill="#231f20" stroke="#231f20" textLength="22.80" lengthAdjust="spacingAndGlyphs">P2RY14</text><text x="427.60" y="433.10" font-size="6.3" text-anchor="start" fill="#231f20" stroke="#231f20" textLength="14.90" lengthAdjust="spacingAndGlyphs">FGL2</text><text x="376.00" y="436.80" font-size="6.3" text-anchor="start" fill="#231f20" stroke="#231f20" textLength="21.90" lengthAdjust="spacingAndGlyphs">P2RY13</text><text x="477.00" y="386.00" font-size="6.3" text-anchor="start" fill="#e29a78" stroke="#e29a78" textLength="24.00" lengthAdjust="spacingAndGlyphs">FCGR1A</text><text x="506.70" y="386.00" font-size="6.3" text-anchor="start" fill="#98d0da" stroke="#98d0da" textLength="23.90" lengthAdjust="spacingAndGlyphs">FCGR1B</text><text x="425.90" y="557.60" font-size="8.0" text-anchor="start" fill="#231f20" stroke="#231f20" textLength="74.40" lengthAdjust="spacingAndGlyphs">Marker ID correlated</text><line x1="425.4" y1="560.7" x2="519.3" y2="560.7" stroke="#a8b0bc" stroke-width="0.8"/><circle cx="428" cy="567.90" r="2.9" fill="#801a26"/><text x="434.80" y="571.20" font-size="8.3" text-anchor="start" fill="#231f20" stroke="#231f20" textLength="62.90" lengthAdjust="spacingAndGlyphs">B Cell.CD19.CD19</text><circle cx="428" cy="579.37" r="2.9" fill="#3b50a2"/><text x="434.80" y="582.67" font-size="8.3" text-anchor="start" fill="#231f20" stroke="#231f20" textLength="68.50" lengthAdjust="spacingAndGlyphs">B Cell.CD20.MS4A1</text><circle cx="428" cy="590.84" r="2.9" fill="#8b8b8b"/><text x="434.80" y="594.14" font-size="8.3" text-anchor="start" fill="#231f20" stroke="#231f20" textLength="62.90" lengthAdjust="spacingAndGlyphs">B Cell.CD22.CD22</text><circle cx="428" cy="602.31" r="2.9" fill="#6a2180"/><text x="434.80" y="605.61" font-size="8.3" text-anchor="start" fill="#231f20" stroke="#231f20" textLength="80.20" lengthAdjust="spacingAndGlyphs">Monocyte.CD14.CD14</text><circle cx="428" cy="613.78" r="2.9" fill="#e8732b"/><text x="434.80" y="617.08" font-size="8.3" text-anchor="start" fill="#231f20" stroke="#231f20" textLength="93.90" lengthAdjust="spacingAndGlyphs">Monocyte.CD64a.FCGR1A</text><circle cx="428" cy="625.25" r="2.9" fill="#5fc3d3"/><text x="434.80" y="628.55" font-size="8.3" text-anchor="start" fill="#231f20" stroke="#231f20" textLength="94.10" lengthAdjust="spacingAndGlyphs">Monocyte.CD64b.FCGR1B</text><circle cx="428" cy="636.72" r="2.9" fill="#e0212e"/><text x="434.80" y="640.02" font-size="8.3" text-anchor="start" fill="#231f20" stroke="#231f20" textLength="72.60" lengthAdjust="spacingAndGlyphs">NK Cell.CD94.KLRD1</text><circle cx="428" cy="648.19" r="2.9" fill="#b95bb8"/><text x="434.80" y="651.49" font-size="8.3" text-anchor="start" fill="#231f20" stroke="#231f20" textLength="75.10" lengthAdjust="spacingAndGlyphs">Treg Cell.CD25.IL2RA</text></svg></body></html>
